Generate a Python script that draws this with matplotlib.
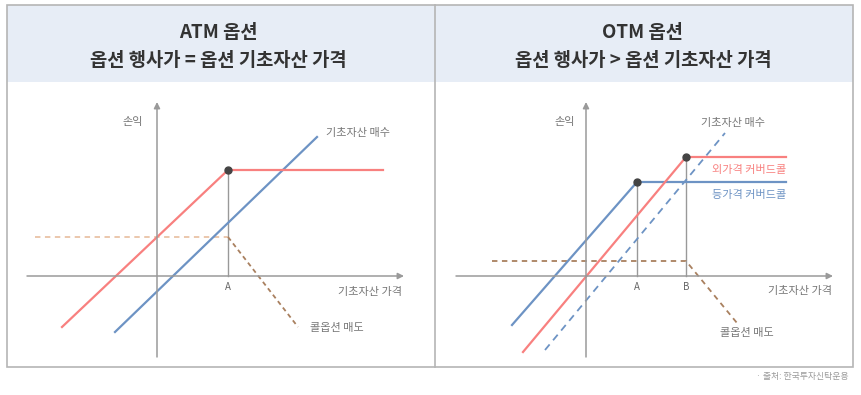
import matplotlib.pyplot as plt
from matplotlib.patches import Rectangle

plt.rcParams['font.family'] = ['Noto Sans CJK KR', 'DejaVu Sans']

# ---- data (arbitrary payoff units) ----
atm_call_x = [-9.5, 7.1, 22.6]          # covered call (ATM)
atm_call_y = [-5.1, 10.6, 10.6]
atm_stock_x = [-4.2, 16.0]              # 기초자산 매수
atm_stock_y = [-5.6, 13.9]
atm_short_x = [-12.2, 7.1, 14.1]        # 콜옵션 매도
atm_short_y = [3.9, 3.9, -5.1]
atm_strike = 7.1

otm_atm_x = [-7.4, 5.1, 20.0]           # 등가격 커버드콜
otm_atm_y = [-4.9, 9.4, 9.4]
otm_otm_x = [-6.3, 10.0, 20.0]          # 외가격 커버드콜
otm_otm_y = [-7.6, 11.9, 11.9]
otm_stock_x = [-4.1, 13.9]
otm_stock_y = [-7.4, 14.3]
otm_short_x = [-9.4, 10.0, 15.1]
otm_short_y = [1.5, 1.5, -4.7]
strike_a = 5.1
strike_b = 10.0

titles = ['ATM 옵션', 'OTM 옵션']
subtitles = ['옵션 행사가 = 옵션 기초자산 가격', '옵션 행사가 > 옵션 기초자산 가격']

RED = '#f8807f'
BLUE = '#6d93c4'
BROWN = '#a9805f'
TAN = '#e9c3a6'
AXC = '#9a9a9a'
TXT = '#777777'

W, H = 861, 395
fig = plt.figure(figsize=(W / 100, H / 100), dpi=100)

# frame layer in pixel coordinates
bg = fig.add_axes([0, 0, 1, 1])
bg.set_xlim(0, W)
bg.set_ylim(H, 0)
bg.axis('off')
bg.add_patch(Rectangle((7, 5), 846, 77, facecolor='#e7edf6', edgecolor='none'))
bg.add_patch(Rectangle((7, 5), 846, 362, facecolor='none', edgecolor='#b5b5b5', lw=1.2))
bg.plot([435, 435], [5, 367], color='#b5b5b5', lw=1.2)
for cx, t, s in zip([218, 643], titles, subtitles):
    bg.text(cx, 32, t, ha='center', va='center', fontsize=13.5, fontweight='bold', color='#333333')
    bg.text(cx, 60, s, ha='center', va='center', fontsize=13.5, fontweight='bold', color='#333333')
bg.text(849, 377, '· 출처: 한국투자신탁운용', ha='right', va='center', fontsize=6.4, color='#9a9a9a')


def make_axes(x0, x1, ox):
    ax = fig.add_axes([x0 / W, (H - 367) / H, (x1 - x0) / W, 285 / H])
    ax.set_xlim((x0 - ox) / 10, (x1 - ox) / 10)
    ax.set_ylim(-9.1, 19.4)
    ax.axis('off')
    arrow = dict(arrowstyle='-|>', color=AXC, lw=1.1, mutation_scale=9, shrinkA=0, shrinkB=0)
    ax.annotate('', xy=(24.7, 0), xytext=(-13.0, 0), arrowprops=arrow)
    ax.annotate('', xy=(0, 17.4), xytext=(0, -8.1), arrowprops=arrow)
    return ax


# ---- ATM panel ----
ax1 = make_axes(7, 435, 157)
ax1.plot([atm_strike, atm_strike], [0, atm_call_y[1]], color='#999999', lw=1.0)
ax1.plot(atm_short_x[:2], atm_short_y[:2], color=TAN, lw=1.3, ls=(0, (3, 2.5)))
ax1.plot(atm_short_x[1:], atm_short_y[1:], color=BROWN, lw=1.3, ls=(0, (2.5, 2)))
ax1.plot(atm_stock_x, atm_stock_y, color=BLUE, lw=1.6)
ax1.plot(atm_call_x, atm_call_y, color=RED, lw=1.6)
ax1.plot([atm_call_x[1]], [atm_call_y[1]], 'o', color='#444444', ms=5)
ax1.text(-2.4, 15.4, '손익', ha='center', va='center', fontsize=8, color=TXT)
ax1.text(20.1, 14.3, '기초자산 매수', ha='center', va='center', fontsize=8, color=TXT)
ax1.text(21.3, -1.6, '기초자산 가격', ha='center', va='center', fontsize=8, color=TXT)
ax1.text(18.0, -5.2, '콜옵션 매도', ha='center', va='center', fontsize=8, color=TXT)
ax1.text(atm_strike, -1.1, 'A', ha='center', va='center', fontsize=7, color='#666666')

# ---- OTM panel ----
ax2 = make_axes(435, 853, 586)
ax2.plot([strike_a, strike_a], [0, otm_atm_y[1]], color='#999999', lw=1.0)
ax2.plot([strike_b, strike_b], [0, otm_otm_y[1]], color='#999999', lw=1.0)
ax2.plot(otm_short_x, otm_short_y, color=BROWN, lw=1.3, ls=(0, (3, 2.5)))
ax2.plot(otm_stock_x, otm_stock_y, color=BLUE, lw=1.3, ls=(0, (4, 3)))
ax2.plot(otm_atm_x, otm_atm_y, color=BLUE, lw=1.6)
ax2.plot(otm_otm_x, otm_otm_y, color=RED, lw=1.6)
ax2.plot([otm_atm_x[1], otm_otm_x[1]], [otm_atm_y[1], otm_otm_y[1]], 'o', color='#444444', ms=5)
ax2.text(-2.1, 15.4, '손익', ha='center', va='center', fontsize=8, color=TXT)
ax2.text(14.7, 15.3, '기초자산 매수', ha='center', va='center', fontsize=8, color=TXT)
ax2.text(20.0, 10.6, '외가격 커버드콜', ha='right', va='center', fontsize=8, color=RED)
ax2.text(20.0, 8.1, '등가격 커버드콜', ha='right', va='center', fontsize=8, color=BLUE)
ax2.text(21.4, -1.5, '기초자산 가격', ha='center', va='center', fontsize=8, color=TXT)
ax2.text(16.1, -5.7, '콜옵션 매도', ha='center', va='center', fontsize=8, color=TXT)
ax2.text(strike_a, -1.1, 'A', ha='center', va='center', fontsize=7, color='#666666')
ax2.text(strike_b, -1.1, 'B', ha='center', va='center', fontsize=7, color='#666666')

fig.savefig('out.png', dpi=100)
